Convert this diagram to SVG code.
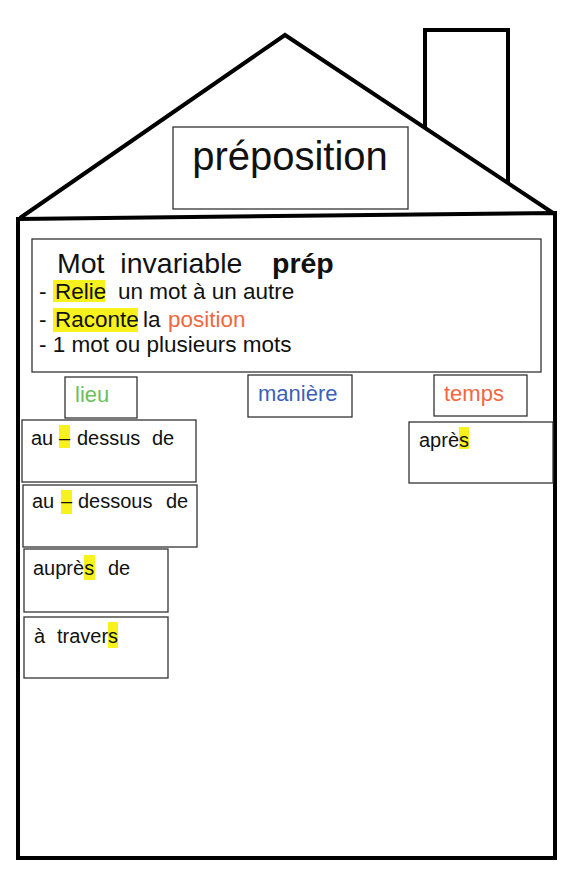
<svg xmlns="http://www.w3.org/2000/svg" width="584" height="880" viewBox="0 0 584 880">
<style>
text{font-family:"Liberation Sans",Arial,sans-serif;fill:#111;white-space:pre}
.thick{fill:none;stroke:#000;stroke-width:4;stroke-linejoin:miter}
.box{fill:#fff;stroke:#333;stroke-width:1.3}
.hl{fill:#f7f21d}
.card{font-size:20px}
.lab{font-size:22px}
.line{font-size:22.5px}
</style>
<rect width="584" height="880" fill="#fff"/>
<g id="house">
<polyline class="thick" points="20,218 285,35 553,213"/>
<path class="thick" d="M425,128 V30 H508 V184" stroke-width="3"/>
<polygon class="thick" points="18,219 555,213 555,858 18,858"/>
</g>
<g id="title">
<rect class="box" x="173" y="127" width="235" height="82"/>
<text x="290" y="170" font-size="40" text-anchor="middle">préposition</text>
</g>
<g id="definition">
<rect class="box" x="32" y="239" width="509" height="133"/>
<rect class="hl" x="53" y="280" width="52" height="22"/>
<rect class="hl" x="53" y="308" width="85" height="24"/>
<text x="57" y="273" font-size="28.5">Mot  invariable</text>
<text x="272" y="273" font-size="28.5" font-weight="bold">prép</text>
<text class="line" y="299"><tspan x="39">-</tspan><tspan x="55">Relie</tspan><tspan x="118">un mot à un autre</tspan></text>
<text class="line" y="327"><tspan x="39">-</tspan><tspan x="55">Raconte</tspan><tspan x="143">la</tspan><tspan x="168" style="fill:#f2673f">position</tspan></text>
<text class="line" x="39" y="352">- 1 mot ou plusieurs mots</text>
</g>
<g id="lieu">
<rect class="box" x="65" y="377" width="72" height="41"/>
<text class="lab" x="75" y="402" style="fill:#6cbf5a">lieu</text>
</g>
<g id="maniere">
<rect class="box" x="248" y="375" width="104" height="42"/>
<text class="lab" x="258" y="401" style="fill:#3d5fb8">manière</text>
</g>
<g id="temps">
<rect class="box" x="434" y="375" width="93" height="41"/>
<text class="lab" x="444" y="401" style="fill:#f2673f">temps</text>
</g>
<g id="au-dessus">
<rect class="box" x="22" y="420" width="174" height="62"/>
<rect class="hl" x="59" y="425" width="11" height="23"/>
<text class="card" y="445"><tspan x="31">au</tspan><tspan x="59">–</tspan><tspan x="77">dessus</tspan><tspan x="152">de</tspan></text>
</g>
<g id="au-dessous">
<rect class="box" x="23" y="485" width="174" height="62"/>
<rect class="hl" x="61" y="490" width="11" height="24"/>
<text class="card" y="508"><tspan x="32">au</tspan><tspan x="61">–</tspan><tspan x="78">dessous</tspan><tspan x="166">de</tspan></text>
</g>
<g id="aupres">
<rect class="box" x="24" y="549" width="144" height="63"/>
<rect class="hl" x="84" y="555" width="11" height="25"/>
<text class="card" y="575"><tspan x="33">auprès</tspan><tspan x="108">de</tspan></text>
</g>
<g id="a-travers">
<rect class="box" x="24" y="617" width="144" height="61"/>
<rect class="hl" x="108" y="622" width="10" height="26"/>
<text class="card" y="643"><tspan x="34">à</tspan><tspan x="57">travers</tspan></text>
</g>
<g id="apres">
<rect class="box" x="409" y="422" width="144" height="61"/>
<rect class="hl" x="459" y="427" width="10" height="22"/>
<text class="card" x="419" y="447">après</text>
</g>
<g id="connectors"/>
</svg>
